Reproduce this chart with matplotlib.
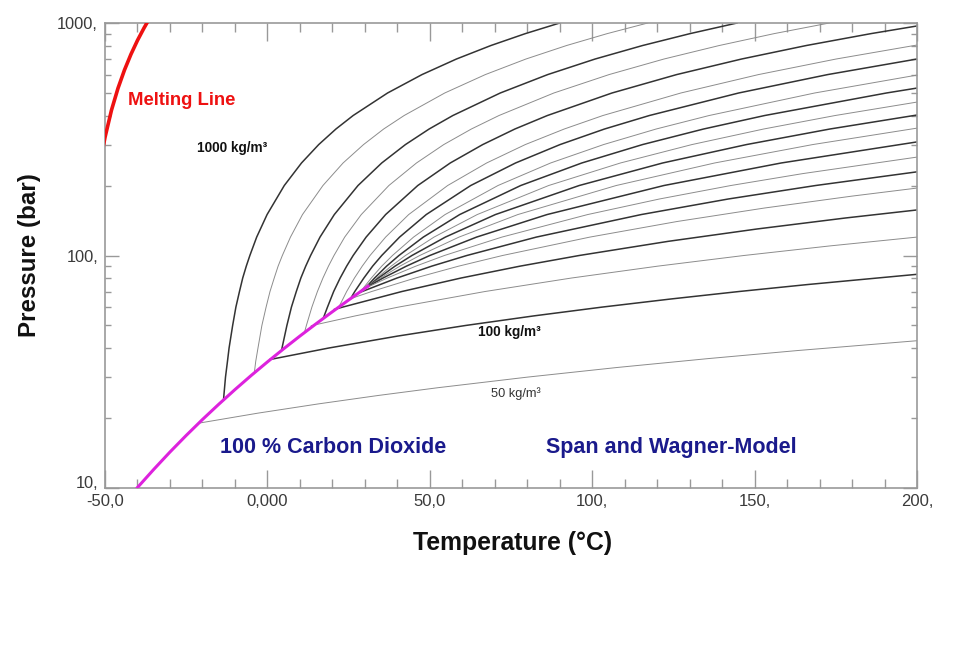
import matplotlib
matplotlib.use("Agg")
import matplotlib.pyplot as plt
from matplotlib.ticker import FixedLocator, FixedFormatter, NullFormatter, LogLocator
from matplotlib.transforms import ScaledTranslation

plt.rcParams['font.family'] = ['Liberation Sans', 'DejaVu Sans']

# vapour pressure curve (triple region up to critical point)
sat_t = [-40.5, -40, -35, -30, -25, -20, -15, -10, -5, 0, 5, 10, 15, 20, 25, 28, 30, 31]
sat_p = [9.85, 10.05, 12.02, 14.28, 16.83, 19.70, 22.90, 26.49, 30.47, 34.85, 39.69,
         45.02, 50.87, 57.29, 64.34, 68.9, 72.14, 73.8]

# melting line
melt_t = [-51, -50, -48, -46, -44, -42, -40, -38, -37]
melt_p = [272, 322, 422, 524, 628, 734, 842, 951, 1006]

# isochores (T in degC, p in bar)
t1000 = [-13.5, -13.4, -12.9, -12.3, -11.8, -10.7, -9.7, -8.6, -7.6, -6.5, -5.4, -3.3, -0.1,
         5.2, 10.5, 15.8, 21.1, 26.4, 37.0, 47.6, 58.2, 68.8, 79.4, 90.0]
p1000 = [24, 25, 30, 35, 40, 50, 60, 70, 80, 90, 100, 120, 150, 200, 250, 300, 350, 400,
         500, 600, 700, 800, 900, 1000]
t950 = [-4.0, -3.6, -2.9, -1.7, -0.4, 0.8, 2.1, 3.3, 4.6, 7.1, 10.8, 17.1, 23.3, 29.6, 35.8,
        42.1, 54.6, 67.1, 79.6, 92.1, 104.6, 117.1]
p950 = [31.5, 35, 40, 50, 60, 70, 80, 90, 100, 120, 150, 200, 250, 300, 350, 400, 500, 600,
        700, 800, 900, 1000]
t900 = [4.4, 4.5, 6.0, 7.4, 8.9, 10.3, 11.8, 13.3, 16.2, 20.6, 27.9, 35.2, 42.5, 49.8, 57.1,
        71.7, 86.3, 100.9, 115.5, 130.1, 144.6]
p900 = [39.3, 40, 50, 60, 70, 80, 90, 100, 120, 150, 200, 250, 300, 350, 400, 500, 600, 700,
        800, 900, 1000]
t850 = [11.4, 12.0, 13.7, 15.4, 17.1, 18.8, 20.5, 23.8, 28.9, 37.4, 45.9, 54.3, 62.8, 71.3,
        88.2, 105.2, 122.1, 139.1, 156.0, 173.0]
p850 = [46.6, 50, 60, 70, 80, 90, 100, 120, 150, 200, 250, 300, 350, 400, 500, 600, 700, 800,
        900, 1000]
t800 = [17.2, 18.5, 20.4, 22.4, 24.4, 26.4, 30.4, 36.4, 46.3, 56.3, 66.3, 76.2, 86.2, 106.1,
        126.0, 146.0, 165.9, 185.8, 200]
p800 = [53.7, 60, 70, 80, 90, 100, 120, 150, 200, 250, 300, 350, 400, 500, 600, 700, 800, 900, 971]
t750 = [22.0, 24.4, 26.8, 29.2, 31.6, 36.4, 43.5, 55.5, 67.5, 79.4, 91.4, 103.3, 127.3, 151.2,
        175.1, 200]
p750 = [60, 70, 80, 90, 100, 120, 150, 200, 250, 300, 350, 400, 500, 600, 700, 804]
t700 = [25.6, 26.9, 29.7, 32.4, 35.2, 40.7, 48.9, 62.6, 76.4, 90.1, 103.8, 117.6, 145.1, 172.5, 200]
p700 = [65.2, 70, 80, 90, 100, 120, 150, 200, 250, 300, 350, 400, 500, 600, 700]
t650 = [28.4, 28.7, 32.0, 35.2, 38.5, 45.0, 54.7, 71.0, 87.2, 103.5, 119.7, 136.0, 168.5, 200]
p650 = [69, 70, 80, 90, 100, 120, 150, 200, 250, 300, 350, 400, 500, 597]
t600 = [30.0, 33.0, 36.7, 40.5, 48.0, 59.2, 78.0, 96.8, 115.5, 134.3, 153.1, 190.6, 200]
p600 = [72.1, 80, 90, 100, 120, 150, 200, 250, 300, 350, 400, 500, 525]
t550 = [30.6, 33.7, 38.1, 42.5, 51.3, 64.6, 86.6, 108.7, 130.7, 152.8, 174.8, 200]
p550 = [73, 80, 90, 100, 120, 150, 200, 250, 300, 350, 400, 457]
t500 = [30.95, 34.2, 39.3, 44.5, 54.8, 70.2, 96.0, 121.7, 147.5, 173.2, 200]
p500 = [73.7, 80, 90, 100, 120, 150, 200, 250, 300, 350, 402]
t450 = [30.95, 34.8, 40.8, 46.9, 59.0, 77.1, 107.4, 137.7, 167.9, 200]
p450 = [73.7, 80, 90, 100, 120, 150, 200, 250, 300, 353]
t400 = [30.7, 35.6, 42.8, 50.0, 64.4, 86.1, 122.1, 158.2, 200]
p400 = [73.2, 80, 90, 100, 120, 150, 200, 250, 308]
t350 = [30.2, 36.9, 45.7, 54.5, 72.2, 98.6, 120.7, 142.7, 164.8, 200]
p350 = [72.4, 80, 90, 100, 120, 150, 175, 200, 225, 265]
t300 = [28.6, 39.9, 50.6, 61.4, 82.8, 115.1, 141.9, 168.8, 200]
p300 = [69.5, 80, 90, 100, 120, 150, 175, 200, 229]
t250 = [25.6, 32.1, 45.5, 58.9, 72.4, 99.3, 126.1, 153.0, 179.9, 200]
p250 = [65.2, 70, 80, 90, 100, 120, 140, 160, 180, 195]
t200 = [20.6, 23.2, 41.4, 59.6, 77.8, 96.0, 123.3, 150.7, 178.0, 200]
p200 = [58.6, 60, 70, 80, 90, 100, 115, 130, 145, 157]
t150 = [13.5, 27.1, 40.4, 67.0, 93.6, 120.2, 146.7, 173.3, 200]
p150 = [49.9, 55, 60, 70, 80, 90, 100, 110, 120]
t100 = [0.8, 18.9, 40.0, 61.0, 82.1, 103.1, 124.2, 145.2, 166.3, 200]
p100 = [35.7, 40, 45, 50, 55, 60, 65, 70, 75, 83]
t50 = [-21.2, -2.8, 15.7, 34.1, 52.5, 80.2, 107.8, 135.5, 163.1, 200]
p50 = [19, 21, 23, 25, 27, 30, 33, 36, 39, 43]

densities = [1000, 950, 900, 850, 800, 750, 700, 650, 600, 550, 500,
             450, 400, 350, 300, 250, 200, 150, 100, 50]
curves = [(t1000, p1000), (t950, p950), (t900, p900), (t850, p850), (t800, p800),
          (t750, p750), (t700, p700), (t650, p650), (t600, p600), (t550, p550),
          (t500, p500), (t450, p450), (t400, p400), (t350, p350), (t300, p300),
          (t250, p250), (t200, p200), (t150, p150), (t100, p100), (t50, p50)]

xticks = [-50, 0, 50, 100, 150, 200]
xticklabels = ["-50,0", "0,000", "50,0", "100,", "150,", "200,"]
yticks = [10, 100, 1000]
yticklabels = ["10,", "100,", "1000,"]

fig = plt.figure(figsize=(9.69, 6.63), dpi=100)
ax = fig.add_axes([105/969, 1-488/663, 812/969, 465/663])

for rho, (t, p) in zip(densities, curves):
    if rho % 100 == 0:
        ax.plot(t, p, color="#333333", lw=1.1, zorder=2)
    else:
        ax.plot(t, p, color="#8c8c8c", lw=0.7, zorder=2)

ax.plot(sat_t, sat_p, color="#dd22dd", lw=2.2, zorder=3)
ax.plot(melt_t, melt_p, color="#ee1111", lw=2.6, zorder=3)

ax.set_yscale("log")
ax.set_xlim(-50, 200)
ax.set_ylim(10, 1000)

ax.xaxis.set_major_locator(FixedLocator(xticks))
ax.xaxis.set_major_formatter(FixedFormatter(xticklabels))
ax.xaxis.set_minor_locator(FixedLocator(list(range(-50, 201, 10))))
ax.yaxis.set_major_locator(FixedLocator(yticks))
ax.yaxis.set_major_formatter(FixedFormatter(yticklabels))
ax.yaxis.set_minor_locator(LogLocator(base=10, subs=range(2, 10)))
ax.yaxis.set_minor_formatter(NullFormatter())

ax.tick_params(axis="x", which="both", direction="in", top=True, bottom=True,
               colors="#999999", labelcolor="#3a3a3a", labelsize=12, pad=4)
ax.tick_params(axis="x", which="major", length=13, width=1)
ax.tick_params(axis="x", which="minor", length=6.5, width=1)
ax.tick_params(axis="y", which="both", direction="in", left=True, right=True,
               colors="#999999", labelcolor="#3a3a3a", labelsize=11.8, pad=5)
ax.tick_params(axis="y", which="major", length=10, width=1)
ax.tick_params(axis="y", which="minor", length=4, width=1)
for s in ax.spines.values():
    s.set_color("#999999")
    s.set_linewidth(1.2)

# lift the "10," label a little so it clears "-50,0"
lab10 = ax.yaxis.get_major_ticks()[0].label1
lab10.set_transform(lab10.get_transform() + ScaledTranslation(0, 4/72, fig.dpi_scale_trans))

ax.text(-43, 462, "Melting Line", color="#ee1111", fontsize=13.3, fontweight="bold",
        ha="left", va="center")
ax.text(-21.7, 290, "1000 kg/m³", color="#111111", fontsize=9.8, fontweight="bold",
        ha="left", va="center")
ax.text(74.4, 46.9, "100 kg/m³", color="#111111", fontsize=9.8, fontweight="bold",
        ha="center", va="center")
ax.text(76.5, 25.4, "50 kg/m³", color="#333333", fontsize=9.2,
        ha="center", va="center")
ax.text(20.2, 15.0, "100 % Carbon Dioxide", color="#1a1a8c", fontsize=15.5,
        fontweight="bold", ha="center", va="center")
ax.text(124.3, 15.0, "Span and Wagner-Model", color="#1a1a8c", fontsize=15.5,
        fontweight="bold", ha="center", va="center")

fig.text(513/969, 1-543/663, "Temperature (°C)", fontsize=17.8, fontweight="bold",
         ha="center", va="center", color="#111111")
fig.text(30/969, 1-255/663, "Pressure (bar)", fontsize=17.4, fontweight="bold",
         ha="center", va="center", rotation=90, color="#111111")

fig.savefig("out.png", dpi=100)
